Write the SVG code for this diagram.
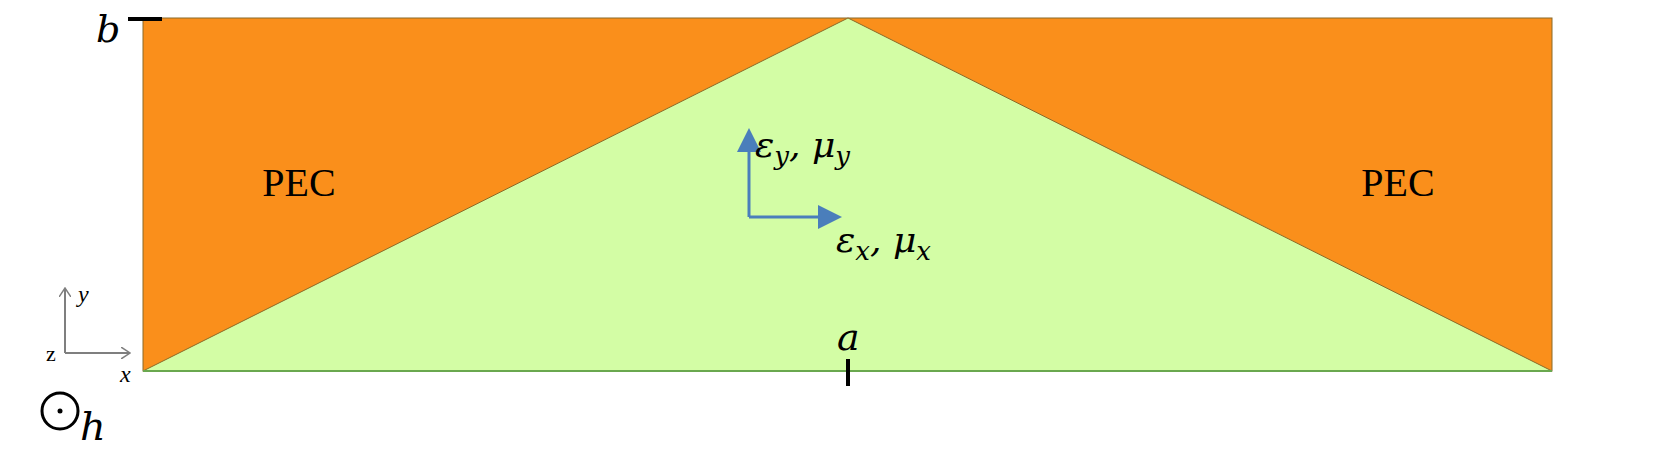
<svg xmlns="http://www.w3.org/2000/svg" width="1670" height="451" viewBox="0 0 1670 451">
<style>
.m{font-family:"DejaVu Serif","Liberation Serif",serif;font-style:italic;fill:#000}
.t{font-family:"Liberation Serif",serif;fill:#000}
.ax{stroke:#7f7f7f;stroke-width:2;fill:none}
</style>
<defs>
<marker id="bh" markerWidth="10" markerHeight="10" refX="2" refY="5" orient="auto" markerUnits="userSpaceOnUse" viewBox="0 0 10 10"><path d="M0,0 L10,5 L0,10 Z" fill="#4a7ebb" transform="scale(1)"/></marker>
<marker id="bb" viewBox="0 0 24 24" markerWidth="24" markerHeight="24" refX="4" refY="12" orient="auto" markerUnits="userSpaceOnUse"><path d="M0,0 L24,12 L0,24 Z" fill="#4a7ebb"/></marker>
<marker id="ga" viewBox="0 0 10 12" markerWidth="10" markerHeight="12" refX="9" refY="6" orient="auto" markerUnits="userSpaceOnUse"><path d="M0,0 L9,6 L0,12" stroke="#7f7f7f" stroke-width="1.5" fill="none"/></marker>
</defs>
<g id="domain">
<rect x="143" y="18" width="1409" height="353" fill="#fa8f1b" stroke="#8a6a2a" stroke-width="1"/>
<polygon points="143,371 848,18 1552,371" fill="#d3fda5" stroke="#8b6a28" stroke-width="1"/>
<line x1="143" y1="371" x2="1552" y2="371" stroke="#6aa84f" stroke-width="2"/>
</g>
<g id="pec-left"><text class="t" x="299" y="196" font-size="40" text-anchor="middle">PEC</text></g>
<g id="pec-right"><text class="t" x="1398" y="196" font-size="40" text-anchor="middle">PEC</text></g>
<g id="ticks">
<line x1="128" y1="19" x2="162" y2="19" stroke="#000" stroke-width="4"/>
<line x1="848" y1="359" x2="848" y2="386" stroke="#000" stroke-width="4"/>
<text class="m" x="96" y="42" font-size="38">b</text>
<text class="m" x="837" y="350" font-size="38">a</text>
</g>
<g id="connectors">
<line x1="749" y1="217" x2="749" y2="148" stroke="#4a7ebb" stroke-width="3" marker-end="url(#bb)"/>
<line x1="749" y1="217" x2="822" y2="217" stroke="#4a7ebb" stroke-width="3" marker-end="url(#bb)"/>
<line class="ax" x1="65" y1="353" x2="65" y2="288" marker-end="url(#ga)"/>
<line class="ax" x1="65" y1="353" x2="130" y2="353" marker-end="url(#ga)"/>
</g>
<g id="labels">
<text class="m" x="755" y="157" font-size="36">ε<tspan font-size="26" dy="8">y</tspan><tspan dy="-8">, μ</tspan><tspan font-size="26" dy="8">y</tspan></text>
<text class="m" x="836" y="252" font-size="36">ε<tspan font-size="26" dy="8">x</tspan><tspan dy="-8">, μ</tspan><tspan font-size="26" dy="8">x</tspan></text>
<text class="t" x="78" y="302" font-size="24" font-style="italic">y</text>
<text class="t" x="46" y="361" font-size="22">z</text>
<text class="t" x="120" y="382" font-size="24" font-style="italic">x</text>
<circle cx="60" cy="411" r="18" fill="none" stroke="#000" stroke-width="3"/>
<circle cx="60" cy="411" r="2.5" fill="#000"/>
<text class="m" x="80" y="440" font-size="40">h</text>
</g>
</svg>
